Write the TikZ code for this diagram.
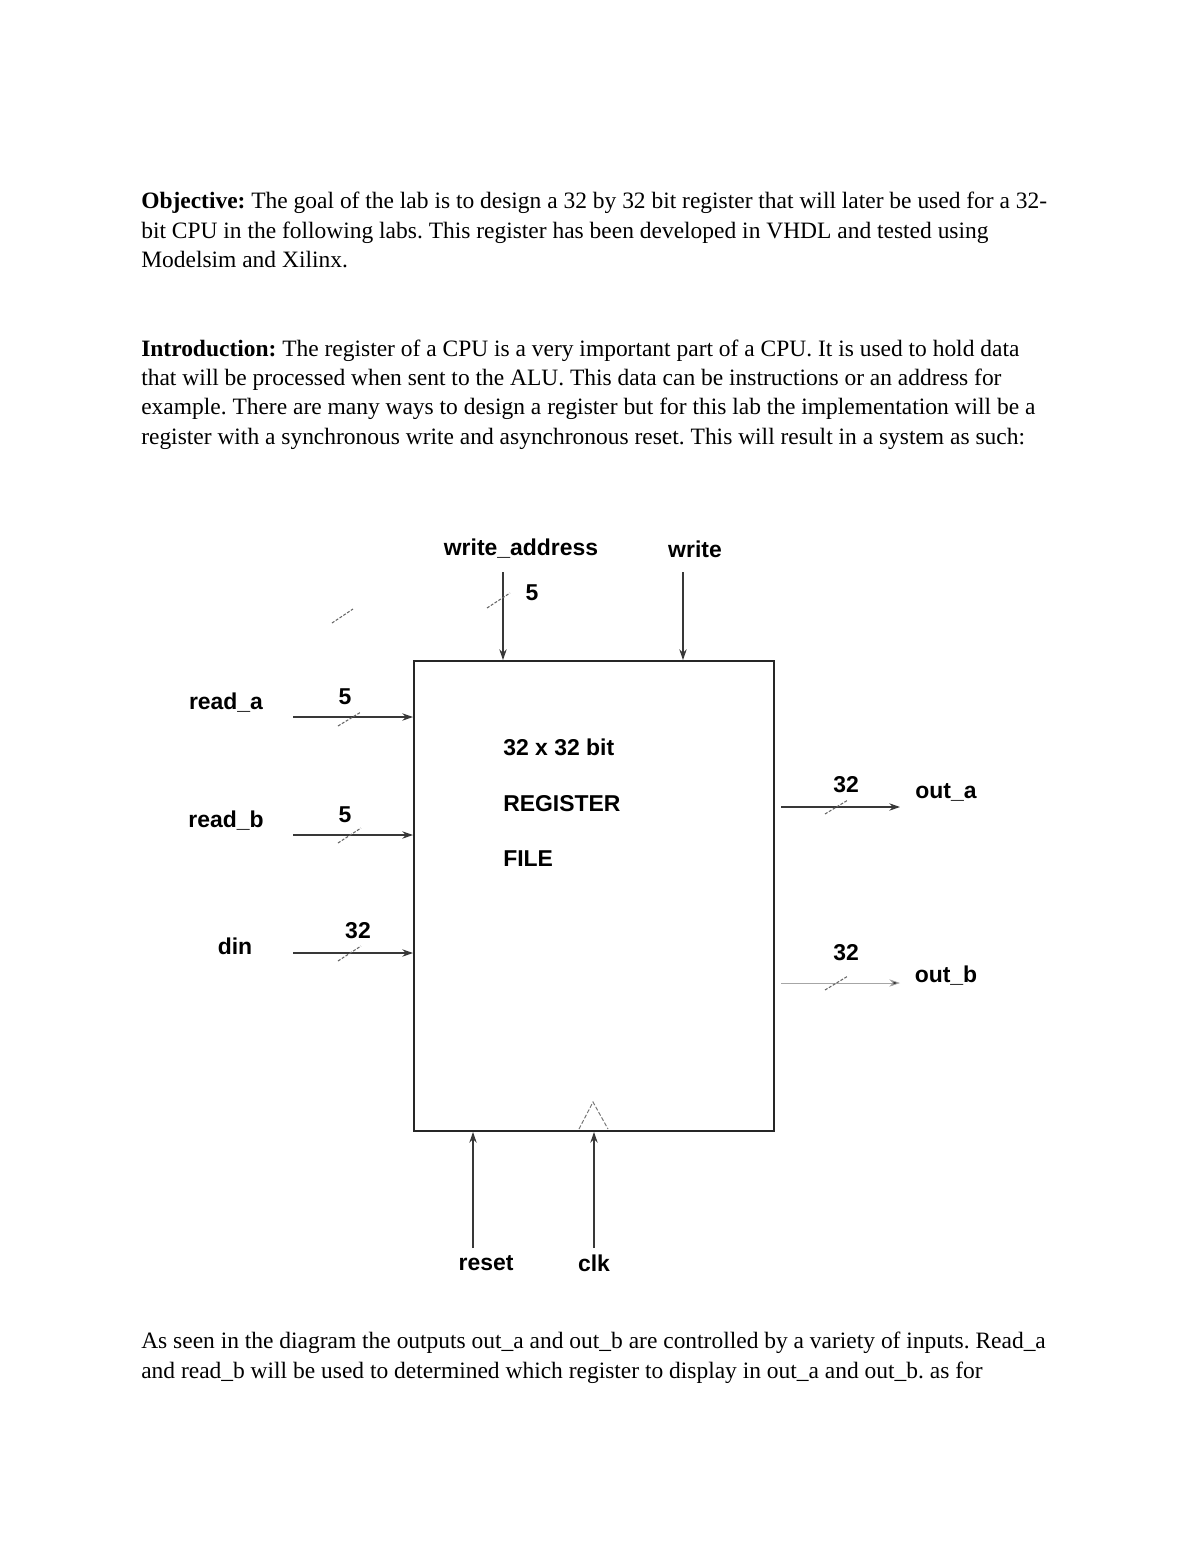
\documentclass[tikz,border=0pt]{standalone}
\usepackage{fontspec}
\setmainfont{Liberation Serif}
\newfontfamily\labfont{Liberation Sans}
\usetikzlibrary{arrows.meta}
\frenchspacing
\begin{document}
\begin{tikzpicture}[x=0.75pt,y=-0.75pt,
 body/.style={anchor=base west, inner sep=0, font=\fontsize{17.6}{22}\selectfont},
 lbl/.style={font=\labfont\bfseries\fontsize{17.2}{20}\selectfont, inner sep=0},
 num/.style={lbl},
 sig/.style={draw=black!78, line width=0.9pt, -{Stealth[length=8pt,width=5.5pt]}},
 tick/.style={draw=black!60, line width=0.8pt, dash pattern=on 2.2pt off 1.2pt},
 regbox/.style={draw=black!85, line width=1.5pt, minimum width=270pt, minimum height=352.5pt, inner sep=0, anchor=north west},
]
\path[use as bounding box, fill=white] (0,0) rectangle (1200,1553);

% body text
\node[body] (o1) at (141,208) {\textbf{Objective:} The goal of the lab is to design a 32 by 32 bit register that will later be used for a 32-};
\node[body] (o2) at (141,238) {bit CPU in the following labs. This register has been developed in VHDL and tested using};
\node[body] (o3) at (141,267) {Modelsim and Xilinx.};
\node[body] (i1) at (141,356) {\textbf{Introduction:} The register of a CPU is a very important part of a CPU. It is used to hold data};
\node[body] (i2) at (141,385) {that will be processed when sent to the ALU. This data can be instructions or an address for};
\node[body] (i3) at (141,414) {example. There are many ways to design a register but for this lab the implementation will be a};
\node[body] (i4) at (141,444) {register with a synchronous write and asynchronous reset. This will result in a system as such:};
\node[body] (a1) at (141,1348) {As seen in the diagram the outputs out\_a and out\_b are controlled by a variety of inputs. Read\_a};
\node[body] (a2) at (141,1378) {and read\_b will be used to determined which register to display in out\_a and out\_b. as for};

% register box
\node[regbox] (reg) at (413,660) {};
\node[lbl, anchor=west] (t1) at (503,747) {32 x 32 bit};
\node[lbl, anchor=west] (t2) at (503,804) {REGISTER};
\node[lbl, anchor=west] (t3) at (503,859) {FILE};

% clock triangle
\draw[draw=black!55, line width=0.7pt, dash pattern=on 3pt off 1.5pt] (579,1129) -- (593,1102) -- (608,1129);

% labels
\node[lbl] (lwa) at (521,549) {write\_address};
\node[lbl] (lw) at (695,549) {write};
\node[lbl] (lra) at (226,703) {read\_a};
\node[lbl] (lrb) at (226,821) {read\_b};
\node[lbl] (ldin) at (235,946) {din};
\node[lbl] (loa) at (946,792) {out\_a};
\node[lbl] (lob) at (946,976) {out\_b};
\node[lbl] (lrst) at (486,1263) {reset};
\node[lbl] (lclk) at (594,1263) {clk};

% width numbers
\node[num] (nwa) at (532,593) {5};
\node[num] (nra) at (345,697) {5};
\node[num] (nrb) at (345,815) {5};
\node[num] (ndin) at (358,931) {32};
\node[num] (noa) at (846,785) {32};
\node[num] (nob) at (846,953) {32};

% connector end points
\coordinate (swa) at (503,572);
\coordinate (sw) at (683,572);
\coordinate (sra) at (293,717);
\coordinate (srb) at (293,835);
\coordinate (sdin) at (293,953);
\coordinate (eoa) at (900,807);
\coordinate (eob) at (900,983);
\coordinate (srst) at (473,1248);
\coordinate (sclk) at (594,1248);

\draw[sig] (swa) -- (swa |- reg.north);
\draw[sig] (sw) -- (sw |- reg.north);
\draw[sig] (sra) -- (sra -| reg.west);
\draw[sig] (srb) -- (srb -| reg.west);
\draw[sig] (sdin) -- (sdin -| reg.west);
\draw[sig] (eoa -| 781,0) -- (eoa);
\draw[sig, draw=black!35, line width=0.6pt, -{Stealth[length=8pt,width=5.5pt,fill=black!80]}] (eob -| 781,0) -- (eob);
\draw[sig] (srst) -- (srst |- reg.south);
\draw[sig] (sclk) -- (sclk |- reg.south);

% bus slash marks
\draw[tick] (487,608) -- (510,593);
\draw[tick] (332,623) -- (353,609);
\draw[tick] (338,726) -- (361,712);
\draw[tick] (338,843) -- (361,828);
\draw[tick] (338,961) -- (361,946);
\draw[tick] (825,814) -- (848,800);
\draw[tick] (825,990) -- (848,976);
\end{tikzpicture}
\end{document}
